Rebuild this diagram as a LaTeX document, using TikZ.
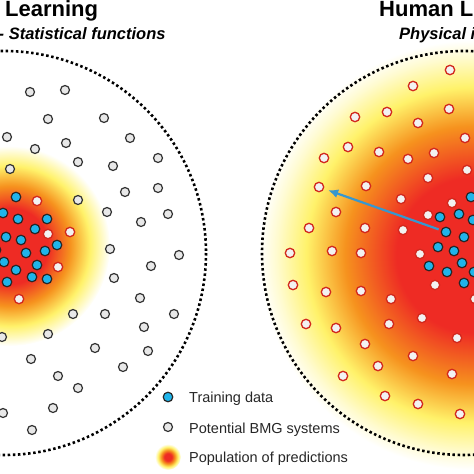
\documentclass[tikz,border=0pt]{standalone}
\usepackage{fontspec}
\setmainfont{Liberation Sans}
\usetikzlibrary{arrows.meta}

\definecolor{glowred}{HTML}{EE2B24}
\definecolor{gloworange}{HTML}{F6921E}
\definecolor{glowyellow}{HTML}{FFF26A}
\definecolor{paleyellow}{HTML}{FFFBD0}
\definecolor{traincyan}{HTML}{1FB4EA}
\definecolor{predred}{HTML}{D2281E}
\definecolor{arrowblue}{HTML}{3797CF}

% glow of the predictions (path edge = 25bp)
\pgfdeclareradialshading{glowleft}{\pgfpoint{0bp}{0bp}}{color(0bp)=(glowred); color(9.5bp)=(glowred); color(15bp)=(gloworange); color(20bp)=(glowyellow); color(25bp)=(white); color(50bp)=(white)}
\pgfdeclareradialshading{glowright}{\pgfpoint{0bp}{0bp}}{color(0bp)=(glowred); color(9bp)=(glowred); color(15bp)=(gloworange); color(19.5bp)=(glowyellow); color(23bp)=(paleyellow); color(25bp)=(white); color(50bp)=(white)}
\pgfdeclareradialshading{glowkey}{\pgfpoint{0bp}{0bp}}{color(0bp)=(glowred); color(7bp)=(glowred); color(13bp)=(gloworange); color(19bp)=(glowyellow); color(25bp)=(white); color(50bp)=(white)}

\begin{document}
\begin{tikzpicture}[x=1pt, y=-1pt,
    bmg/.style={circle, draw=black!80, fill=black!9, line width=1.2pt, minimum size=9pt, inner sep=0pt, outer sep=0pt},
    pred/.style={circle, draw=predred, fill=black!5, line width=1.3pt, minimum size=9.4pt, inner sep=0pt, outer sep=0pt},
    train/.style={circle, draw=black!85, fill=traincyan, line width=1.2pt, minimum size=9.6pt, inner sep=0pt, outer sep=0pt},
    ring/.style={black, line width=2.6pt, dash pattern=on 2.5pt off 2.6pt},
    title/.style={font=\fontsize{22}{26}\selectfont\bfseries, inner sep=0pt},
    subtitle/.style={font=\fontsize{16.5}{20}\selectfont\bfseries\itshape, inner sep=0pt},
    keytext/.style={font=\fontsize{14.5}{17}\selectfont, text=black!85, inner sep=0pt, anchor=base west}]
  \useasboundingbox (0,0) rectangle (474,474);
  \clip (0,0) rectangle (474,474);

  % left circle: statistical functions
  \begin{scope}
    \shade[shading=glowleft] (10,246) circle (100);
    \draw[ring] (4,253) circle (202);
    \foreach \x/\y [count=\i] in {30/92, 65/90, 48/119, 104/118, 7/137, 35/149, 66/143, 130/138,
        158/158, 10/169, 78/162, 113/166, 125/192, 158/188, 78/200, 107/212, 168/214, 141/222,
        110/249, 179/255, 151/266, 114/278, 140/298, 174/314, 73/314, 105/314, 144/327, 48/334,
        2/337, 95/348, 148/351, 31/359, 123/367, 58/376, 78/388, 3/413, 53/408, 32/430}
      \node[bmg] (bmgL\i) at (\x,\y) {};
    \foreach \x/\y [count=\i] in {37/201, 48/234, 70/232, 58/267, 19/299}
      \node[pred] (predL\i) at (\x,\y) {};
    \foreach \x/\y [count=\i] in {16/197, 3/213, 18/219, 47/219, 35/229, 6/237, 21/240, 57/245,
        45/251, 26/253, 4/262, 37/265, 16/270, 32/277, 47/279, 7/282, -4/250}
      \node[train] (trainL\i) at (\x,\y) {};
    \node[title, anchor=base west] (titleL) at (5,16) {Learning};
    \node[subtitle, anchor=base west] (subL) at (-1.5,39) {- Statistical functions};
  \end{scope}

  % right circle: physical insight
  \begin{scope}
    \shade[shading=glowright] (474,255) circle (215);
    \draw[ring] (464,253) circle (202);
    \foreach \x/\y [count=\i] in {450/70, 413/86, 355/117, 387/112, 418/123, 449/109, 465/138,
        348/147, 324/158, 379/152, 408/159, 434/153, 467/170, 366/186, 428/178, 401/199,
        452/203, 336/212, 428/215, 309/228, 365/228, 403/230, 290/253, 332/251, 361/253, 420/254,
        293/285, 326/292, 361/291, 391/299, 435/285, 306/324, 336/328, 389/324, 422/318, 365/344,
        457/338, 413/356, 378/366, 343/376, 452/374, 385/396, 418/404, 460/414, 475/299}
      \node[pred] (predR\i) at (\x,\y) {};
    \node[pred] (target) at (319,187) {};
    \foreach \x/\y [count=\i] in {471/197, 440/217, 459/214, 473/220, 464/237, 438/247, 454/251,
        462/263, 429/266, 447/272, 474/272, 464/283}
      \node[train] (trainR\i) at (\x,\y) {};
    \node[train] (source) at (446,232) {};
    \draw[arrowblue, line width=2.2pt, -{Latex[length=10pt,width=9pt]}, shorten <=3pt, shorten >=5pt] (source) -- (target);
    \node[title, anchor=base west] (titleR) at (379,16) {Human L};
    \node[subtitle, anchor=base west] (subR) at (399,39) {Physical i};
  \end{scope}

  % legend
  \node[train] (keytrain) at (168,397) {};
  \node[bmg] (keybmg) at (168,427) {};
  \shade[shading=glowkey] (168,457) circle (13);
  \coordinate (keyglow) at (168,457);
  \node[keytext] (ktrain) at (189,402) {Training data};
  \node[keytext] (kbmg) at (189,433) {Potential BMG systems};
  \node[keytext] (kglow) at (189,462) {Population of predictions};
\end{tikzpicture}
\end{document}
